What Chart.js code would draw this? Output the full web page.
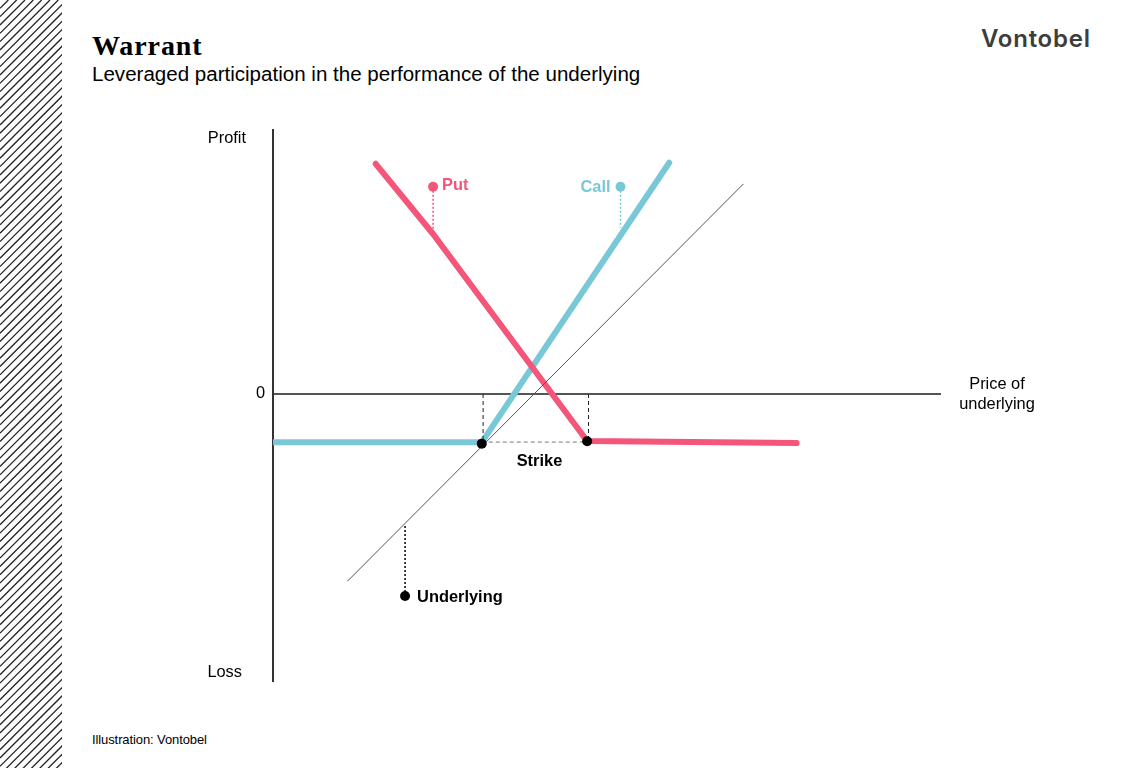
<!DOCTYPE html>
<html>
<head>
<meta charset="utf-8">
<title>Warrant</title>
<script src="https://cdn.jsdelivr.net/npm/chart.js@4"></script>
<style>
  html, body { margin: 0; padding: 0; background: #fff; }
  body { width: 1122px; height: 768px; position: relative; overflow: hidden; font-family: "Liberation Sans", Arial, sans-serif; color: #000; }
  #hatch { position: absolute; left: 0; top: 0; }
  #title { position: absolute; left: 92px; top: 30px; font: bold 28px "Liberation Serif", serif; letter-spacing: 0.9px; }
  #subtitle { position: absolute; left: 92px; top: 62px; font-size: 20.55px; }
  #logo { position: absolute; left: 981px; top: 24px; font: 600 24px "Inter", sans-serif; letter-spacing: 0.75px; color: #3d3d3d; }
  #source { position: absolute; left: 92px; top: 732px; font-size: 13px; letter-spacing: -0.1px; }
  #wrap { position: absolute; left: 0; top: 0; width: 1122px; height: 768px; }
</style>
</head>
<body>
<canvas id="hatch" width="62" height="768"></canvas>
<div id="title">Warrant</div>
<div id="subtitle">Leveraged participation in the performance of the underlying</div>
<div id="logo">Vontobel</div>
<div id="source">Illustration: Vontobel</div>
<div id="wrap"><canvas id="chart" width="1122" height="768"></canvas></div>
<script>
// payoff lines (x = price of underlying, y = profit)
const callX = [0, 31.3, 59.4];
const callY = [-18.3, -18.3, 87.6];
const putX = [15.4, 24.0, 47.1, 78.5];
const putY = [87.2, 60.6, -17.8, -18.6];
const underlyingX = [11.2, 70.5];
const underlyingY = [-70.8, 79.5];

// strike markers and guide lines
const strikeX = [31.3, 47.1];
const strikeY = [-18.8, -17.9];
const strikeGuideX = [31.5, 47.3];
const strikeLevel = -18.2;

// label dots and their leader ends
const putDotX = 24.0;
const putDotY = [78.5, 61.0];
const callDotX = 52.1;
const callDotY = [78.5, 63.0];
const underlyingDotX = 19.8;
const underlyingDotY = [-76.5, -49.5];

const xMin = 0, xMax = 100, yMin = -108.7, yMax = 100;

const PINK = "#f4567a";
const TEAL = "#79c8d7";

// hatched side panel
const hctx = document.getElementById("hatch").getContext("2d");
hctx.strokeStyle = "#222";
hctx.lineWidth = 1.3;
for (let k = 0; k < 840; k += 8.33) {
  hctx.beginPath();
  hctx.moveTo(0, k);
  hctx.lineTo(k, 0);
  hctx.stroke();
}

function zip(xs, ys) {
  return xs.map((x, i) => ({ x, y: ys[i] }));
}

function line(xs, ys, color, width, dash) {
  return {
    data: zip(xs, ys), showLine: true, borderColor: color, borderWidth: width,
    borderDash: dash || [], pointRadius: 0, tension: 0,
    borderCapStyle: dash ? "butt" : "round", borderJoinStyle: "round"
  };
}

function dots(xs, ys, color, r) {
  return { data: zip(xs, ys), showLine: false, pointRadius: r, pointBackgroundColor: color, pointBorderWidth: 0 };
}

// axis captions and mark labels drawn at scale positions
const textLabels = {
  id: "textLabels",
  afterDatasetsDraw(chart) {
    const { ctx, scales: { x, y } } = chart;
    const put = (s, px, py, align, bold, color) => {
      ctx.font = (bold ? "bold " : "") + "16.4px 'Liberation Sans', Arial, sans-serif";
      ctx.fillStyle = color || "#000";
      ctx.textAlign = align;
      ctx.textBaseline = "middle";
      ctx.fillText(s, px, py);
    };
    ctx.save();
    put("Profit", x.getPixelForValue(xMin) - 27, y.getPixelForValue(yMax) + 8, "right");
    put("Loss", x.getPixelForValue(xMin) - 31, y.getPixelForValue(yMin) - 9, "right");
    put("0", x.getPixelForValue(xMin) - 8, y.getPixelForValue(0) - 1, "right");
    put("Price of", x.getPixelForValue(xMax) + 57, y.getPixelForValue(0) - 10, "center");
    put("underlying", x.getPixelForValue(xMax) + 57, y.getPixelForValue(0) + 10, "center");
    put("Strike", (x.getPixelForValue(strikeX[0]) + x.getPixelForValue(strikeX[1])) / 2 + 5, y.getPixelForValue(strikeLevel) + 19, "center", true);
    put("Put", x.getPixelForValue(putDotX) + 9, y.getPixelForValue(putDotY[0]) - 1, "left", true, PINK);
    put("Call", x.getPixelForValue(callDotX) - 10, y.getPixelForValue(callDotY[0]) + 1, "right", true, TEAL);
    put("Underlying", x.getPixelForValue(underlyingDotX) + 12, y.getPixelForValue(underlyingDotY[0]) + 1, "left", true);
    ctx.restore();
  }
};

new Chart(document.getElementById("chart"), {
  type: "scatter",
  data: {
    // Chart.js paints the first dataset last, so the top marks come first
    datasets: [
      dots(strikeX, strikeY, "#000", 5),
      dots([putDotX], [putDotY[0]], PINK, 5),
      dots([callDotX], [callDotY[0]], TEAL, 5),
      dots([underlyingDotX], [underlyingDotY[0]], "#000", 5),
      line([putDotX, putDotX], putDotY, PINK, 1.5, [2, 2]),
      line([callDotX, callDotX], callDotY, TEAL, 1.5, [2, 2]),
      line([underlyingDotX, underlyingDotX], underlyingDotY, "#000", 1.5, [2, 2]),
      line([strikeGuideX[0], strikeGuideX[0]], [0, strikeLevel], "#222", 1, [4, 3]),
      line([strikeGuideX[1], strikeGuideX[1]], [0, strikeLevel], "#222", 1, [4, 3]),
      line(strikeX, [strikeLevel, strikeLevel], "#777", 1, [4, 3]),
      line(underlyingX, underlyingY, "#555", 1),
      line(putX, putY, PINK, 6),
      line(callX, callY, TEAL, 6)
    ]
  },
  options: {
    responsive: false,
    animation: false,
    layout: { padding: { left: 273, right: 182, top: 130, bottom: 87 } },
    plugins: { legend: { display: false }, tooltip: { enabled: false } },
    scales: {
      x: {
        type: "linear", min: xMin, max: xMax, position: { y: 0 },
        grid: { display: false, drawTicks: false },
        border: { display: true, color: "#555", width: 2 },
        ticks: { display: false }
      },
      y: {
        type: "linear", min: yMin, max: yMax, position: "left",
        grid: { display: false, drawTicks: false },
        border: { display: true, color: "#333", width: 2 },
        ticks: { display: false }
      }
    }
  },
  plugins: [textLabels]
});
</script>
</body>
</html>
